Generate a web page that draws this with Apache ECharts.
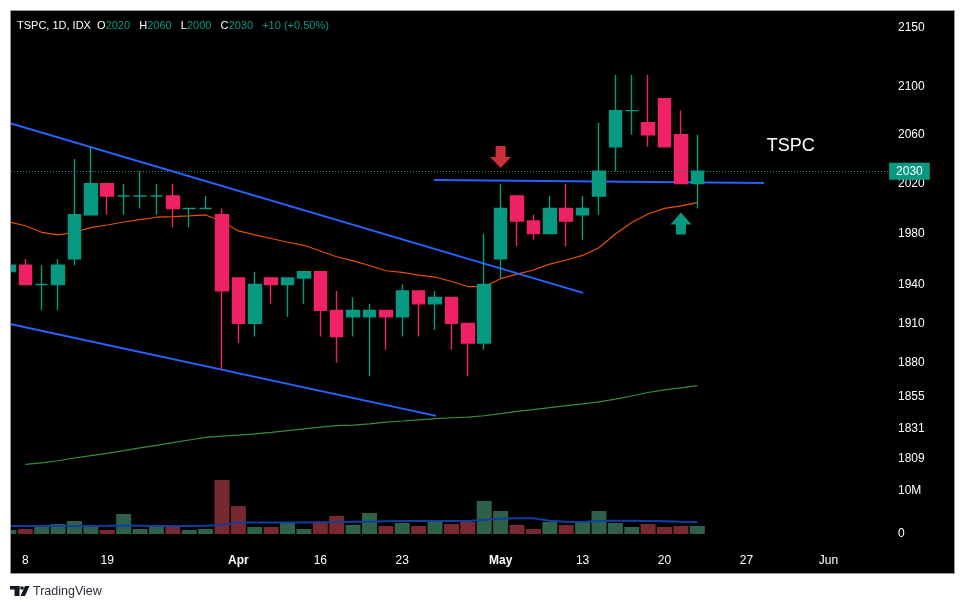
<!DOCTYPE html>
<html>
<head>
<meta charset="utf-8">
<title>TSPC</title>
<style>
html,body{margin:0;padding:0;background:#fff;}
#main{width:965px;height:609px;}
</style>
<script src="https://cdn.jsdelivr.net/npm/echarts@6/dist/echarts.min.js"></script>
</head>
<body>
<div id="main"></div>
<script>
//daily candles, last one is the 2020/2060/2000/2030 bar from the header
var opens =[1950,1955,1940,1940,1960,1995,2020,2010,2010,2010,2010,2000,2000,1995,1945,1910,1945,1940,1945,1950,1920,1915,1915,1920,1915,1935,1925,1930,1910,1895,1960,2010,1990,1980,2000,1995,2010,2050,2080,2070,2090,2060,2020];
var closes=[1955,1940,1940,1955,1995,2020,2010,2010,2010,2010,2000,2000,2000,1935,1910,1940,1940,1945,1950,1920,1900,1920,1920,1915,1935,1925,1930,1910,1895,1940,2000,1990,1980,2000,1990,2000,2030,2080,2080,2060,2050,2020,2030];
var highs =[1955,1960,1955,1960,2040,2050,2020,2020,2030,2020,2020,2000,2010,2000,1945,1950,1945,1945,1950,1950,1935,1930,1925,1920,1940,1935,1935,1930,1910,1980,2020,2010,1995,2010,2020,2010,2070,2110,2110,2110,2090,2080,2060];
var lows  =[1950,1940,1920,1920,1955,1995,1995,1995,2000,1995,1985,1985,2000,1875,1895,1900,1925,1915,1925,1900,1880,1900,1870,1890,1900,1900,1905,1890,1870,1890,1945,1970,1975,1980,1970,1975,1995,2030,2060,2050,2050,2020,2000];
var volumes=[0.93,1.16,1.63,2.33,3.02,1.86,0.93,4.65,1.16,1.86,1.63,0.93,1.16,12.56,6.5,1.63,1.63,2.56,1.16,2.56,4.19,2.09,4.88,1.86,2.56,1.86,2.79,2.33,2.79,7.67,5.35,2.09,1.16,2.79,2.09,2.79,5.35,2.56,1.63,2.33,1.63,1.86,1.86];
//moving averages
var ma20=[1989.2,1986.2,1981,1978.9,1981,1984.7,1986.8,1989.2,1991.1,1993,1993.5,1994.1,1994.8,1989.6,1982.1,1978.9,1976.1,1973.1,1970.7,1966.2,1961.7,1958.4,1954.8,1950.7,1949.4,1947.3,1945.8,1942.3,1938.4,1938.4,1944.5,1948.1,1951.3,1955.9,1959.1,1962.7,1968.8,1979.7,1988.8,1995.6,2000.1,2002.1,2004.7];
var ma100=[null,1805.1,1806.2,1807.7,1809.7,1811.4,1813.1,1815,1817,1818.9,1820.8,1822.8,1824.7,1825.6,1826.4,1827.3,1828.4,1829.7,1830.9,1832.2,1833.3,1833.7,1834.6,1835.9,1836.7,1837.6,1838.5,1839.1,1839.5,1840.6,1842.1,1843.8,1845.1,1846.6,1848.1,1849.4,1850.9,1852.9,1855.2,1857.8,1859.8,1861.3,1863];
var volMa=[1.86,1.86,1.86,1.86,1.86,1.86,1.9,1.95,1.9,1.86,1.86,1.86,1.9,2.09,2.7,2.7,2.7,2.65,2.65,2.75,2.8,2.87,2.87,2.95,3.0,3.0,3.0,3.0,3.0,3.3,3.57,3.64,3.64,3.1,2.87,2.79,3.0,3.1,3.1,3.05,2.95,2.85,2.79];
//drawn trend lines, [bar number, price]
var channelTop=[[0.07,2069.5],[35.03,1933.5]];
var channelBottom=[[0.07,1909.5],[26.06,1840.5]];
var resistance=[[25.94,2023],[46.07,2020.5]];
//marks drawn on the chart
var downArrow=[[30,2041.7]];
var upArrow=[[41,1988]];
var symbolNote=[[47.7,2051]];
var lastClose=2030;
//axis ticks
var priceTicks=[2150,2100,2060,2020,1980,1940,1910,1880,1855,1831,1809];
var volumeTicks=[0,10];
var dateBars=[1,6,14,19,24,30,35,40,45,50];
var dateLabels=['8','19','{b|Apr}','16','23','{b|May}','13','20','27','Jun'];

var UP='#089981',DOWN='#ee2264';

function pairs(arr){
  return arr.map(function(v,i){return [i,v]})
}
var candleData=opens.map(function(o,i){
  return [i,o,closes[i],lows[i],highs[i]]
})
var volumeData=volumes.map(function(v,i){
  return {
    value:[i,v],
    itemStyle:{color:closes[i]<opens[i]?'#78282f':'#2f6048'}
  }
})
function trend(data){
  return {
    type:'line',data:data,symbol:'none',z:1,
    xAxisIndex:0,yAxisIndex:0,silent:true,
    lineStyle:{color:'#2962ff',width:2}
  }
}
function arrow(data,path,color){
  return {
    type:'scatter',data:data,symbol:path,symbolSize:[21,22],z:6,
    xAxisIndex:0,yAxisIndex:0,silent:true,
    itemStyle:{color:color,opacity:1}
  }
}

var chart=echarts.init(document.getElementById('main'),null,{renderer:'canvas'});
chart.setOption({
  animation:false,
  backgroundColor:'#fff',
  textStyle:{fontFamily:'"Liberation Sans",Arial,sans-serif'},
  title:{
    left:17,top:20,padding:0,
    text:'{w|TSPC, 1D, IDX}  {w|O}{g|2020}   {w|H}{g|2060}   {w|L}{g|2000}   {w|C}{g|2030}   {g|+10 (+0.50%)}',
    textStyle:{
      fontSize:11,fontWeight:'normal',
      rich:{
        w:{color:'#fff',fontSize:11},
        g:{color:UP,fontSize:11}
      }
    }
  },
  //panel, first bar is cut by the left edge, footer logo and brand
  graphic:[
    {type:'rect',z:-1,shape:{x:10.5,y:10.5,width:944,height:563},style:{fill:'#000',stroke:'#9598a1',lineWidth:1},silent:true},
    {type:'rect',z:100,shape:{x:0,y:0,width:10,height:609},style:{fill:'#fff'},silent:true},
    {type:'line',z:101,shape:{x1:10.5,y1:10,x2:10.5,y2:574},style:{stroke:'#9598a1',lineWidth:1},silent:true},
    {type:'rect',shape:{x:10,y:586,width:9.5,height:3.5},style:{fill:'#131722'},silent:true},
    {type:'rect',shape:{x:14.5,y:586,width:5,height:10},style:{fill:'#131722'},silent:true},
    {type:'circle',shape:{cx:22,cy:588,r:1.8},style:{fill:'#131722'},silent:true},
    {type:'polygon',shape:{points:[[25,586],[29.5,586],[25,596],[20.5,596]]},style:{fill:'#131722'},silent:true},
    {type:'text',x:33,y:585,style:{text:'TradingView',fill:'#2a2e39',fontSize:12.5,fontFamily:'"Liberation Sans",Arial,sans-serif'},silent:true}
  ],
  grid:[
    {left:11,top:11,width:943,height:459},
    {left:11,top:470,width:943,height:64}
  ],
  xAxis:[
    {type:'value',gridIndex:0,min:0.128,max:57.66,show:false,splitLine:{show:false}},
    {
      type:'value',gridIndex:1,min:0.128,max:57.66,
      axisLine:{show:false},axisTick:{show:false},splitLine:{show:false},
      axisLabel:{
        customValues:dateBars,margin:21,color:'#fff',fontSize:12,hideOverlap:false,
        formatter:function(v){return dateLabels[dateBars.indexOf(v)]},
        rich:{b:{fontWeight:'bold',color:'#fff',fontSize:12}}
      }
    }
  ],
  yAxis:[
    {
      type:'log',gridIndex:0,position:'right',min:1801,max:2164.7,
      axisLine:{show:false},axisTick:{show:false},splitLine:{show:false},minorSplitLine:{show:false},
      axisLabel:{
        customValues:priceTicks,inside:true,margin:56,align:'left',color:'#fff',fontSize:12,
        showMinLabel:true,showMaxLabel:true,
        formatter:function(v){return String(Math.round(v))}
      }
    },
    {
      type:'value',gridIndex:1,position:'right',min:0,max:14.88,
      axisLine:{show:false},axisTick:{show:false},splitLine:{show:false},
      axisLabel:{
        customValues:volumeTicks,inside:true,margin:56,align:'left',color:'#fff',fontSize:12,
        formatter:function(v){return v?v+'M':'0'}
      }
    }
  ],
  series:[
    {
      type:'line',data:pairs(ma20),symbol:'none',z:1,xAxisIndex:0,yAxisIndex:0,silent:true,
      lineStyle:{color:'#e65100',width:1.2}
    },
    {
      type:'line',data:pairs(ma100),symbol:'none',z:1,xAxisIndex:0,yAxisIndex:0,silent:true,
      lineStyle:{color:'#388e3c',width:1.2}
    },
    trend(channelTop),
    trend(channelBottom),
    trend(resistance),
    {
      type:'candlestick',data:candleData,barWidth:13,xAxisIndex:0,yAxisIndex:0,z:3,silent:true,
      encode:{x:0,y:[1,2,3,4]},
      itemStyle:{color:UP,color0:DOWN,borderColor:UP,borderColor0:DOWN,borderWidth:1.4},
      markLine:{
        silent:true,symbol:'none',z:5,animation:false,
        lineStyle:{color:UP,type:[1,2],width:1},
        label:{
          position:'end',distance:0,color:'#fff',fontSize:12,
          backgroundColor:UP,padding:[3,7,2,7],
          formatter:String(lastClose)
        },
        data:[[{coord:[0.128,lastClose]},{coord:[53.7,lastClose]}]]
      }
    },
    arrow(downArrow,'path://M5.5 0H15.5V11H21L10.5 22L0 11H5.5Z','#cc2f3c'),
    arrow(upArrow,'path://M10.5 0L21 12H15.5V22H5.5V12H0Z',UP),
    {
      type:'scatter',data:symbolNote,symbolSize:1,z:6,xAxisIndex:0,yAxisIndex:0,silent:true,
      itemStyle:{color:'transparent',opacity:1},
      label:{show:true,position:'inside',color:'#fff',fontSize:18,formatter:'TSPC'}
    },
    {
      type:'bar',data:volumeData,barWidth:15,xAxisIndex:1,yAxisIndex:1,z:2,silent:true
    },
    {
      type:'line',data:pairs(volMa),symbol:'none',z:3,xAxisIndex:1,yAxisIndex:1,silent:true,
      lineStyle:{color:'#0d3fa8',width:2}
    }
  ]
})
</script>
</body>
</html>
